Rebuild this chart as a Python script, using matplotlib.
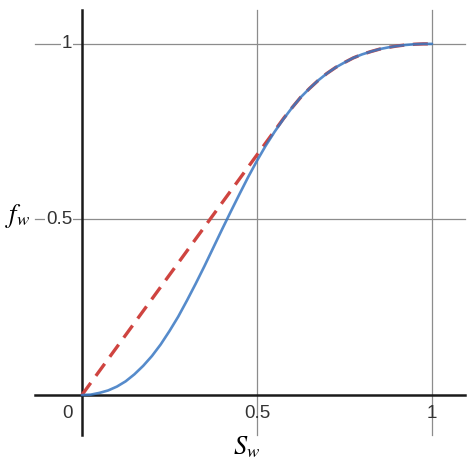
import numpy as np
import matplotlib.pyplot as plt

# fractional flow curve
sw = [0.0, 0.025, 0.05, 0.075, 0.10, 0.125, 0.15, 0.175, 0.20, 0.225, 0.25,
      0.275, 0.30, 0.325, 0.35, 0.375, 0.40, 0.425, 0.45, 0.475, 0.50,
      0.525, 0.55, 0.575, 0.60, 0.625, 0.65, 0.675, 0.70, 0.725, 0.75,
      0.775, 0.80, 0.825, 0.85, 0.875, 0.90, 0.925, 0.95, 0.975, 1.0]
fw = [0.0, 0.001, 0.006, 0.013, 0.024, 0.039, 0.059, 0.083, 0.111, 0.144, 0.182,
      0.223, 0.269, 0.317, 0.367, 0.419, 0.471, 0.522, 0.572, 0.621, 0.667,
      0.710, 0.749, 0.785, 0.818, 0.848, 0.873, 0.896, 0.916, 0.933, 0.947,
      0.960, 0.970, 0.978, 0.985, 0.990, 0.994, 0.997, 0.999, 1.0, 1.0]

# tangent from the origin (Welge construction)
tan_sw = [0.0, 0.577]
tan_fw = [0.0, 0.789]

xticks = [0, 0.5, 1]
xtick_labels = ["0", "0.5", "1"]
yticks = [0.5, 1]
ytick_labels = ["0.5", "1"]

blue = "#3877c2"
red = "#cf4440"

fig = plt.figure(figsize=(4.74, 4.74), dpi=100)
ax = fig.add_axes([0, 0, 1, 1])
ax.set_xlim(-0.234, 1.12)
ax.set_ylim(-0.225, 1.125)
ax.axis("off")

x0, x1 = -0.134, 1.094
y0, y1 = -0.114, 1.097

# grid
for t in yticks:
    ax.plot([x0, x1], [t, t], color="#8c8c8c", lw=0.9, zorder=1)
for t in xticks[1:]:
    ax.plot([t, t], [y0, y1], color="#8c8c8c", lw=0.9, zorder=1)

# axes
ax.plot([x0, x1], [0, 0], color="#1a1a1a", lw=1.8, zorder=2)
ax.plot([0, 0], [y0, y1], color="#1a1a1a", lw=1.8, zorder=2)

# tick labels
for t, lab in zip(xticks, xtick_labels):
    xp = -0.04 if t == 0 else t
    ax.text(xp, -0.053, lab, ha="center", va="center", fontsize=13.5,
            family="Liberation Sans", color="#333333", zorder=3)
for t, lab in zip(yticks, ytick_labels):
    ax.text(-0.027, t, lab, ha="right", va="center", fontsize=13.5,
            family="Liberation Sans", color="#333333", zorder=3,
            bbox=dict(facecolor="white", edgecolor="none", pad=0.6))

# axis titles
plt.rcParams["mathtext.fontset"] = "stix"
ax.text(-0.185, 0.51, r"$f_w$", ha="center", va="center", fontsize=19)
ax.text(0.47, -0.15, r"$S_w$", ha="center", va="center", fontsize=19)

# curves
sw_a = np.array(sw)
fw_a = np.array(fw)
upper = sw_a >= 0.6
red_x = tan_sw + list(sw_a[upper])
red_y = tan_fw + list(fw_a[upper])
ax.plot(red_x, red_y, color=red, lw=2.4, dashes=(4.5, 2.6), zorder=4)
ax.plot(sw, fw, color=blue, lw=1.9, alpha=0.85, zorder=5,
        solid_capstyle="round")

fig.savefig("out.png", dpi=100)
